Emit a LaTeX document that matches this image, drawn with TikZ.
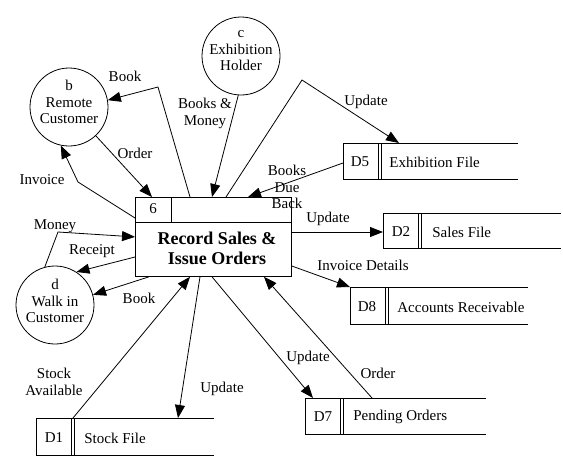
\documentclass[tikz,border=0pt]{standalone}
\usepackage{fontspec}
\setmainfont{Liberation Serif}
\usetikzlibrary{arrows.meta}
\begin{document}
\begin{tikzpicture}[x=1pt,y=-1pt,
  line width=0.8pt,
  flow/.style={-{Triangle[length=13pt,width=10pt]}},
  lbl/.style={font=\fontsize{15}{16.5}\selectfont, inner sep=0pt, align=center},
  ptext/.style={font=\fontsize{18}{20}\selectfont\bfseries, inner sep=0pt, align=center},
  ent/.style={circle, draw, minimum size=78pt, inner sep=0pt},
  storebox/.style={rectangle, draw=none, inner sep=0pt, anchor=north west},
  procbox/.style={rectangle, draw, inner sep=0pt, anchor=north west, minimum width=156pt, minimum height=79pt},
]
\useasboundingbox (0,0) rectangle (563,456);

% process
\node[procbox] (proc) at (135,197) {};
\draw ([yshift=-25pt]proc.north west) -- ([yshift=-25pt]proc.north east);
\draw ([xshift=36pt]proc.north west) -- ([xshift=36pt,yshift=-25pt]proc.north west);
\node[lbl] (pnum) at (153,209) {6};
\node[ptext] (pname) at (217,248) {Record Sales \&\\Issue Orders};

% entities
\node[ent] (b) at (69,107) {};
\node[lbl] (btext) at (69,102) {b\\Remote\\Customer};
\node[ent] (c) at (241,56) {};
\node[lbl] (ctext) at (241,51) {c\\Exhibition\\Holder};
\node[ent] (d) at (55,305) {};
\node[lbl] (dtext) at (55,301) {d\\Walk in\\Customer};

% stores
\newcommand\storelines[1]{%
  \draw (#1.north east) -- (#1.north west) -- (#1.south west) -- (#1.south east);
  \draw ([xshift=35pt]#1.north west) -- ([xshift=35pt]#1.south west);
  \draw ([xshift=38pt]#1.north west) -- ([xshift=38pt]#1.south west);}
\node[storebox, minimum width=174pt, minimum height=36pt] (d5) at (343,143) {};
\storelines{d5}
\node[lbl] (d5id) at (360,162) {D5};
\node[lbl, anchor=west] (d5name) at (389,162) {Exhibition File};

\node[storebox, minimum width=177pt, minimum height=35pt] (d2) at (383,213) {};
\storelines{d2}
\node[lbl] (d2id) at (401,232) {D2};
\node[lbl, anchor=west] (d2name) at (432,232) {Sales File};

\node[storebox, minimum width=177pt, minimum height=37pt] (d8) at (350,287) {};
\storelines{d8}
\node[lbl] (d8id) at (367,307) {D8};
\node[lbl, anchor=west] (d8name) at (397,307) {Accounts Receivable};

\node[storebox, minimum width=177pt, minimum height=37pt] (d1) at (36,418) {};
\storelines{d1}
\node[lbl] (d1id) at (54,438) {D1};
\node[lbl, anchor=west] (d1name) at (84,438) {Stock File};

\node[storebox, minimum width=180pt, minimum height=36pt] (d7) at (305,398) {};
\storelines{d7}
\node[lbl] (d7id) at (323,417) {D7};
\node[lbl, anchor=west] (d7name) at (353,417) {Pending Orders};

% connectors
\coordinate (kb1) at (158,87);
\draw[flow] ([xshift=55pt]proc.north west) -- (kb1) -- (b.10);
\draw[flow] (b.-47) -- ([xshift=17pt]proc.north west);
\coordinate (kb2) at (78,182);
\draw[flow] ([yshift=-21pt]proc.north west) -- (kb2) -- (b.-102);
\draw[flow] (c.-94) -- ([xshift=77pt]proc.north west);
\coordinate (kb3) at (302,80);
\draw[flow] ([xshift=91pt]proc.north west) -- (kb3) -- ([xshift=56pt]d5.north west);
\draw[flow] ([yshift=-20pt]d5.north west) -- ([xshift=113pt]proc.north west);
\coordinate (u2) at ([yshift=-35pt]proc.north east);
\draw[flow] (u2) -- (u2 -| d2.west);
\draw[flow] ([yshift=-69pt]proc.north east) -- (d8.north west);
\coordinate (kb4) at (58,232);
\draw[flow] (d.105) -- (kb4) -- (proc.west);
\draw[flow] ([yshift=-60pt]proc.north west) -- (d.57);
\draw[flow] ([xshift=14pt]proc.south west) -- (d.15);
\draw[flow] ([xshift=37pt]d1.north west) -- ([xshift=55pt]proc.south west);
\draw[flow] ([xshift=65pt]proc.south west) -- ([xshift=142pt]d1.north west);
\draw[flow] ([xshift=77pt]proc.south west) -- ([xshift=8pt]d7.north west);
\draw[flow] ([xshift=67pt]d7.north west) -- ([xshift=129pt]proc.south west);

% labels
\node[lbl] (l1) at (125,76) {Book};
\node[lbl] (l2) at (135,153) {Order};
\node[lbl] (l3) at (42,180) {Invoice};
\node[lbl] (l4) at (205,113.5) {Books \&\\Money};
\node[lbl] (l5) at (366,102) {Update};
\node[lbl] (l6) at (287,187) {Books\\Due\\Back};
\node[lbl] (l7) at (328,219) {Update};
\node[lbl] (l8) at (363,265) {Invoice Details};
\node[lbl] (l9) at (55,226) {Money};
\node[lbl] (l10) at (92,251) {Receipt};
\node[lbl] (l11) at (139,298) {Book};
\node[lbl] (l12) at (54,382) {Stock\\Available};
\node[lbl] (l13) at (222,389) {Update};
\node[lbl] (l14) at (308,358) {Update};
\node[lbl] (l15) at (378,373) {Order};
\end{tikzpicture}
\end{document}
